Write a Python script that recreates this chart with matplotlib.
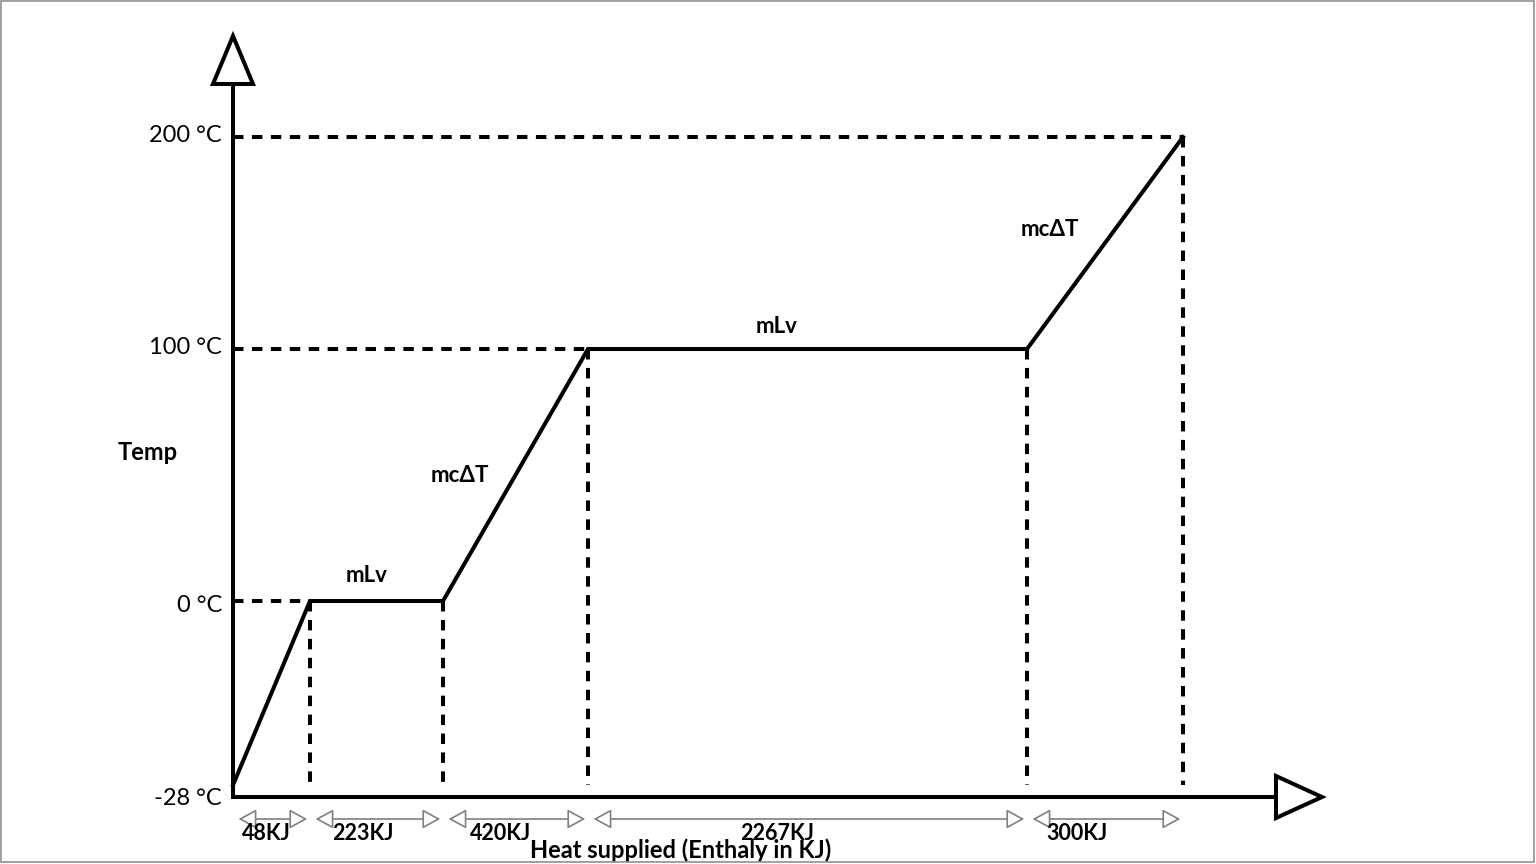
import numpy as np
import matplotlib
matplotlib.use('Agg')
import matplotlib.pyplot as plt
from matplotlib.patches import Polygon, Rectangle

# data of the heating curve (schematic)
segment_labels = ['48KJ', '223KJ', '420KJ', '2267KJ', '300KJ']
heat_kj = [48, 223, 420, 2267, 300]
temps_c = [-28, 0, 0, 100, 100, 200]
temp_ticks = [-28, 0, 100, 200]
tick_labels = ['-28 °C', '0 °C', '100 °C', '200 °C']
phase_labels = ['', 'mLv', 'mcΔT', 'mLv', 'mcΔT']

W, H = 1536, 864
cum = np.concatenate([[0], np.cumsum(heat_kj)])

# the drawing is not to scale: piecewise scale, knots -> pixel positions
x_pos = [233, 310, 443, 588, 1027, 1183]
y_pos = [H - 785, H - 601, H - 349, H - 137]


def piecewise(knots, pos):
    k = np.asarray(knots, float)
    p = np.asarray(pos, float)
    s0 = (p[1] - p[0]) / (k[1] - k[0])
    s1 = (p[-1] - p[-2]) / (k[-1] - k[-2])

    def fwd(v):
        v = np.asarray(v, float)
        out = np.interp(v, k, p)
        out = np.where(v < k[0], p[0] + (v - k[0]) * s0, out)
        out = np.where(v > k[-1], p[-1] + (v - k[-1]) * s1, out)
        return out

    def inv(u):
        u = np.asarray(u, float)
        out = np.interp(u, p, k)
        out = np.where(u < p[0], k[0] + (u - p[0]) / s0, out)
        out = np.where(u > p[-1], k[-1] + (u - p[-1]) / s1, out)
        return out

    return fwd, inv


fx, ix = piecewise(cum, x_pos)
fy, iy = piecewise(temp_ticks, y_pos)

plt.rcParams['font.family'] = ['Lato', 'DejaVu Sans']

fig = plt.figure(figsize=(W / 100, H / 100), dpi=100)
ax = fig.add_axes([0, 0, 1, 1])
ax.set_xscale('function', functions=(fx, ix))
ax.set_yscale('function', functions=(fy, iy))
ax.set_xlim(float(ix(0)), float(ix(W)))
ax.set_ylim(float(iy(0)), float(iy(H)))
ax.axis('off')

lw = 2.9
dash = (0, (2.6, 2.1))

# axes lines and hollow arrow heads
ax.plot([233 / W, 233 / W], [1 - 797 / H, 1 - 84 / H], color='black', lw=lw,
        transform=ax.transAxes, solid_capstyle='butt')
ax.plot([231 / W, 1276 / W], [1 - 797 / H, 1 - 797 / H], color='black', lw=lw,
        transform=ax.transAxes, solid_capstyle='butt')
ax.add_patch(Polygon([(233 / W, 1 - 36 / H), (213 / W, 1 - 84 / H), (253 / W, 1 - 84 / H)],
                     closed=True, fc='white', ec='black', lw=lw, transform=ax.transAxes,
                     joinstyle='miter'))
ax.add_patch(Polygon([(1322 / W, 1 - 797 / H), (1276 / W, 1 - 776 / H), (1276 / W, 1 - 818 / H)],
                     closed=True, fc='white', ec='black', lw=lw, transform=ax.transAxes,
                     joinstyle='miter'))

# dashed guide lines
for i in range(1, len(cum)):
    ax.plot([cum[i], cum[i]], [temps_c[i], -28], color='black', lw=lw, ls=dash)
for t, xe in [(0, cum[1]), (100, cum[3]), (200, cum[5])]:
    ax.plot([0, xe], [t, t], color='black', lw=lw, ls=dash)

# heating curve
ax.plot(cum, temps_c, color='black', lw=lw, solid_joinstyle='miter')

# tick labels
for t, lab in zip(temp_ticks, tick_labels):
    dy = -10 if t == -28 else (-3 if t == 0 else 1)
    ax.annotate(lab, xy=(0, t), xytext=(-8, dy), textcoords='offset points',
                ha='right', va='center', fontsize=17)

# phase labels
lab_off = [(0, 0), (-7, 18), (-40, 0), (-22, 16), (-40, 10)]
for i, lab in enumerate(phase_labels):
    if not lab:
        continue
    xm = float(ix((fx(cum[i]) + fx(cum[i + 1])) / 2))
    ym = float(iy((fy(temps_c[i]) + fy(temps_c[i + 1])) / 2))
    ax.annotate(lab, xy=(xm, ym), xytext=lab_off[i], textcoords='offset points',
                ha='center', va='center', fontsize=16, fontweight='bold')

# heat per segment, double arrows below the axis
xt = ax.get_xaxis_transform()
seg_off = [-4, -10, -11, -22, -20]
for i, lab in enumerate(segment_labels):
    ax.annotate('', xy=(cum[i + 1], 1 - 819 / H), xytext=(cum[i], 1 - 819 / H),
                xycoords=xt, textcoords=xt,
                arrowprops=dict(arrowstyle='<|-|>,head_length=0.55,head_width=0.3',
                                mutation_scale=20, fc='white', ec='#808080', lw=1.2,
                                shrinkA=4, shrinkB=2))
    xm = float(ix((fx(cum[i]) + fx(cum[i + 1])) / 2))
    ax.annotate(lab, xy=(xm, 1 - 834 / H), xycoords=xt, xytext=(seg_off[i], 0),
                textcoords='offset points', ha='center', va='center',
                fontsize=15.5, fontweight='bold')

ax.text(681 / W, 1 - 850 / H, 'Heat supplied (Enthaly in KJ)', transform=ax.transAxes,
        ha='center', va='center', fontsize=17, fontweight='bold')
ax.text(148 / W, 1 - 452 / H, 'Temp', transform=ax.transAxes,
        ha='center', va='center', fontsize=17, fontweight='bold')

# thin frame round the picture
fig.add_artist(Rectangle((0.0005, 0.002), 0.998, 0.997, transform=fig.transFigure,
                         fill=False, ec='#909090', lw=1.2))

fig.savefig('out.png', dpi=100)
